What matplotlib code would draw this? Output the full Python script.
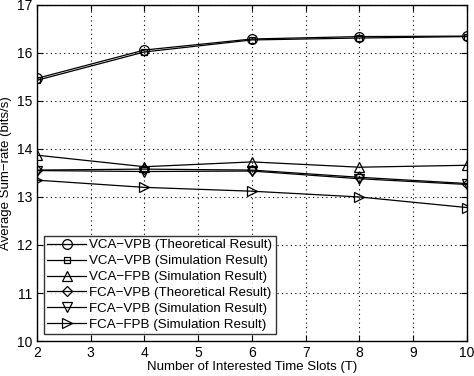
import matplotlib as mpl
import matplotlib.pyplot as plt

mpl.rcParams['font.family'] = ['Liberation Sans', 'DejaVu Sans']

T = [2, 4, 6, 8, 10]
vca_vpb_theory = [15.47, 16.06, 16.29, 16.34, 16.35]
vca_vpb_sim = [15.43, 16.02, 16.27, 16.31, 16.34]
vca_fpb_sim = [13.87, 13.63, 13.73, 13.62, 13.66]
fca_vpb_theory = [13.56, 13.58, 13.56, 13.41, 13.28]
fca_vpb_sim = [13.55, 13.53, 13.54, 13.38, 13.26]
fca_fpb_sim = [13.35, 13.20, 13.12, 13.00, 12.78]

labels = ["VCA\u2212VPB (Theoretical Result)",
          "VCA\u2212VPB (Simulation Result)",
          "VCA\u2212FPB (Simulation Result)",
          "FCA\u2212VPB (Theoretical Result)",
          "FCA\u2212VPB (Simulation Result)",
          "FCA\u2212FPB (Simulation Result)"]
markers = ["o", "s", "^", "D", "v", ">"]
sizes = [7, 5, 7, 5, 7, 7]
series = [vca_vpb_theory, vca_vpb_sim, vca_fpb_sim,
          fca_vpb_theory, fca_vpb_sim, fca_fpb_sim]

fig = plt.figure(figsize=(4.74, 3.76), dpi=100)
ax = fig.add_axes([0.078, 0.093, 0.907, 0.894])

for y, m, s, lab in zip(series, markers, sizes, labels):
    ax.plot(T, y, color="black", lw=0.9, marker=m, ms=s,
            mfc="none", mec="black", mew=0.9, label=lab)

ax.set_xlim(2, 10)
ax.set_ylim(10, 17)
ax.set_xticks(range(2, 11))
ax.set_yticks(range(10, 18))
ax.grid(True, linestyle=(0, (1, 3)), color="black", lw=0.8)
ax.tick_params(direction="in", top=True, right=True, labelsize=10, length=4)
for sp in ax.spines.values():
    sp.set_linewidth(1.0)

ax.set_xlabel("Number of Interested Time Slots (T)", fontsize=9.5, labelpad=1)
ax.set_ylabel("Average Sum\u2212rate (bits/s)", fontsize=9.5, labelpad=3)

leg = ax.legend(loc="lower left", bbox_to_anchor=(0.016, 0.02), fontsize=9.6,
                frameon=True, fancybox=False, edgecolor="black",
                handlelength=2.9, handletextpad=0.25, labelspacing=0.27,
                borderpad=0.25, borderaxespad=0)
leg.get_frame().set_linewidth(1.0)

fig.savefig("out.png", dpi=100)
